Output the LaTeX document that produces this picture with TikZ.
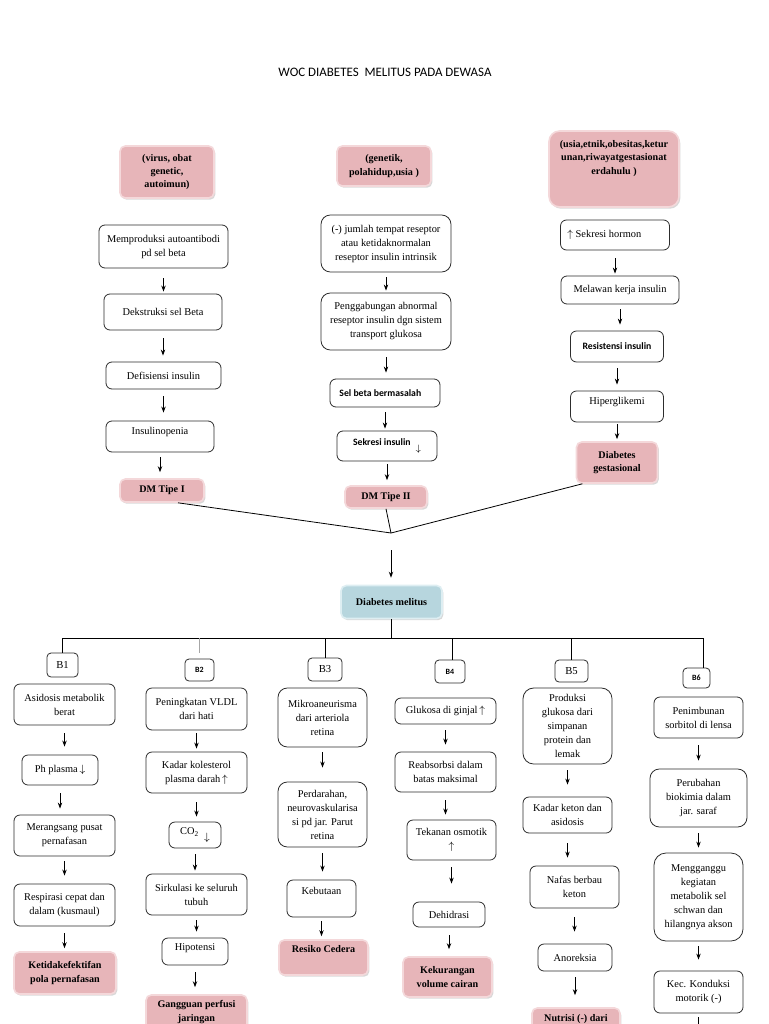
\documentclass[tikz,border=0pt]{standalone}
\usepackage{fontspec}
\setmainfont{Liberation Serif}
\newfontfamily\cali{Carlito}
\usetikzlibrary{shadows,arrows.meta,calc}
\definecolor{pinkf}{RGB}{231,181,185}
\definecolor{pinkd}{RGB}{244,216,218}
\definecolor{bluef}{RGB}{183,214,222}
\definecolor{blued}{RGB}{222,238,242}
\definecolor{edge}{RGB}{45,45,45}
\tikzset{
 sz/.style 2 args={minimum width=#1*0.75pt, minimum height=#2*0.75pt},
 wbox/.style={draw=edge, line width=0.6pt, rounded corners=4.5pt, fill=white, align=center, inner sep=1pt, font=\fontsize{7.8}{10.5}\selectfont},
 pbox/.style={draw=pinkd, line width=1.2pt, fill=pinkf, rounded corners=4pt, align=center, inner sep=1pt, font=\fontsize{7.6}{10}\selectfont\bfseries, drop shadow={shadow xshift=1pt, shadow yshift=-1.3pt, opacity=0.3}},
 ptxt/.style={align=center, inner sep=1pt, font=\fontsize{7.6}{10}\selectfont\bfseries},
 bbox/.style={pbox, fill=bluef, draw=blued},
 sbox/.style={wbox, font=\cali\bfseries\fontsize{7.3}{9}\selectfont},
 bsmall/.style={wbox, rounded corners=3pt, font=\cali\bfseries\fontsize{6}{7}\selectfont},
 bser/.style={wbox, rounded corners=3pt, font=\fontsize{8}{9}\selectfont},
 arr/.style={-{Stealth[length=4.5pt,width=3.3pt]}, line width=0.7pt, black},
 ln/.style={line width=0.6pt, black},
}
\newcommand{\conn}[4]{\draw[arr, shorten <=#3*0.75pt, shorten >=#4*0.75pt] (#1.south) -- (#1.south |- #2.north);}
\begin{document}
\begin{tikzpicture}[x=0.75pt,y=-0.75pt]
\path[use as bounding box] (0,0) rectangle (768,1024);
\clip (0,0) rectangle (768,1024);
\fill[white] (0,0) rectangle (768,1024);

\node[font=\cali\fontsize{9.7}{11}\selectfont] (title) at (385,72) {WOC DIABETES \ MELITUS PADA DEWASA};

% sources
\node[pbox, sz={94}{52}] (s1) at (167,172) {(virus, obat\\genetic,\\autoimun)};
\node[pbox, sz={94}{40}] (s2) at (384,166) {(genetik,\\polahidup,usia )};
\node[pbox, sz={130}{76}, rounded corners=8pt] (s3) at (614,169) {};
\node[ptxt, anchor=north] (s3t) at ([yshift=-6.5pt]s3.north) {(usia,etnik,obesitas,ketur\\unan,riwayatgestasionat\\erdahulu )};

% column A
\node[wbox, sz={129}{43}] (a1) at (163.5,246.5) {Memproduksi autoantibodi\\pd sel beta};
\node[wbox, sz={118}{36}] (a2) at (163,312) {Dekstruksi sel Beta};
\node[wbox, sz={115}{27}] (a3) at (163.5,375.5) {Defisiensi insulin};
\node[wbox, sz={108}{31}, text depth=8.5pt] (a4) at (160,436.5) {Insulinopenia};
\node[pbox, sz={84}{23}] (dm1) at (162,490.5) {DM Tipe I};
\conn{a1}{a2}{10}{2}
\conn{a2}{a3}{8}{6}
\conn{a3}{a4}{7}{8}
\conn{a4}{dm1}{5}{6}

% column B
\node[wbox, sz={130}{57}, rounded corners=7pt] (b1) at (386,243.5) {(-) jumlah tempat reseptor\\atau ketidaknormalan\\reseptor insulin intrinsik};
\node[wbox, sz={130}{57}, rounded corners=7pt] (b2) at (386,321.5) {Penggabungan abnormal\\reseptor insulin dgn sistem\\transport glukosa};
\node[sbox, sz={110}{28}] (b3) at (385,393) {Sel beta bermasalah\hspace*{7pt}};
\node[sbox, sz={100}{30}] (b4) at (387,446) {Sekresi insulin\enspace\raisebox{-4pt}{$\downarrow$}};
\node[pbox, sz={82}{22}] (dm2) at (386,497) {DM Tipe II};
\conn{b1}{b2}{5}{2}
\conn{b2}{b3}{7}{6}
\conn{b3}{b4}{5}{2}
\conn{b4}{dm2}{3}{5}

% column C
\node[wbox, sz={109}{30}] (c1) at (615,235) {$\uparrow$ Sekresi hormon\hspace*{16pt}};
\node[wbox, sz={118}{28}] (c2) at (620,290) {Melawan kerja insulin};
\node[sbox, sz={93}{31}] (c3) at (617,346.5) {Resistensi insulin};
\node[wbox, sz={93}{31}, text depth=8.5pt] (c4) at (617,406.5) {Hiperglikemi};
\node[pbox, sz={81}{41}] (dg) at (617,462.5) {Diabetes\\gestasional};
\conn{c1}{c2}{8}{2}
\conn{c2}{c3}{5}{6}
\conn{c3}{c4}{6}{6}
\conn{c4}{dg}{2}{2}

% convergence
\coordinate (jn) at (391,533);
\draw[ln] ([xshift=12pt]dm1.south) -- (jn);
\draw[ln] (dm2.south) -- (jn);
\draw[ln] ([xshift=5pt]dg.south west) -- (jn);
\node[bbox, sz={101}{33}] (dm) at (391.5,602) {Diabetes melitus};
\draw[arr, shorten <=17*0.75pt, shorten >=7*0.75pt] (jn) -- (jn |- dm.north);

% branches
\node[bser, sz={31}{24}] (B1) at (62.5,665) {B1};
\node[bsmall, sz={29}{22}] (B2) at (199.5,670) {B2};
\node[bser, sz={34}{23}] (B3) at (325,669.5) {B3};
\node[bsmall, sz={30}{23}] (B4) at (450,671.5) {B4};
\node[bser, sz={33}{22}] (B5) at (571.5,671) {B5};
\node[bsmall, sz={27}{20}] (B6) at (696.5,678) {B6};
\coordinate (hL) at (62.5,638);
\coordinate (hR) at (704,638);
\draw[ln] (dm.south) -- (dm.south |- hL);
\draw[ln] (hL) -- (hR);
\draw[ln] (B1.north |- hL) -- (B1.north);
\draw[ln, gray!70] (B2.north |- hL) -- ([yshift=4.5pt]B2.north);
\draw[ln] (B3.north |- hL) -- (B3.north);
\draw[ln] ([xshift=1.5pt]B4.north |- hL) -- ([xshift=1.5pt]B4.north);
\draw[ln] (B5.north |- hL) -- (B5.north);
\draw[ln] ([xshift=5.5pt]B6.north |- hL) -- ([xshift=5.5pt]B6.north);

% B1
\node[wbox, sz={101}{41}] (k1) at (64.5,704.5) {Asidosis metabolik\\berat};
\node[wbox, sz={76}{30}] (k2) at (60,770) {Ph plasma\,$\downarrow$};
\node[wbox, sz={101}{41}] (k3) at (64.5,835.5) {Merangsang pusat\\pernafasan};
\node[wbox, sz={101}{42}] (k4) at (64.5,905) {Respirasi cepat dan\\dalam (kusmaul)};
\node[pbox, sz={102}{42}] (k5) at (65,973) {Ketidakefektifan\\pola pernafasan};
\conn{k1}{k2}{8}{8}
\conn{k2}{k3}{8}{6}
\conn{k3}{k4}{5}{8}
\conn{k4}{k5}{7}{3}

% B2
\node[wbox, sz={101}{42}] (v1) at (196.5,709) {Peningkatan VLDL\\dari hati};
\node[wbox, sz={101}{41}] (v2) at (196.5,772.5) {Kadar kolesterol\\plasma darah\,$\uparrow$};
\node[wbox, sz={52}{26}] (v3) at (195,835) {CO\textsubscript{2}\enspace\raisebox{-4pt}{$\downarrow$}};
\node[wbox, sz={101}{41}] (v4) at (196.5,894.5) {Sirkulasi ke seluruh\\tubuh};
\node[wbox, sz={66}{27}, text depth=7pt] (v5) at (195,951.5) {Hipotensi};
\node[pbox, sz={101}{34}] (v6) at (196.5,1012) {Gangguan perfusi\\jaringan};
\conn{v1}{v2}{3}{3}
\conn{v2}{v3}{9}{5}
\conn{v3}{v4}{6}{3}
\conn{v4}{v5}{5}{6}
\conn{v5}{v6}{7}{7}

% B3
\node[wbox, sz={89}{59}, rounded corners=7pt] (r1) at (322.5,717.5) {Mikroaneurisma\\dari arteriola\\retina};
\node[wbox, sz={89}{65}, rounded corners=7pt] (r2) at (322.5,814.5) {Perdarahan,\\neurovaskularisa\\si pd jar. Parut\\retina};
\node[wbox, sz={69}{37}, text depth=11.5pt] (r3) at (321.5,898.5) {Kebutaan};
\node[pbox, sz={89}{35}, text depth=13pt] (r4) at (323.5,957.5) {Resiko Cedera};
\conn{r1}{r2}{5}{14}
\conn{r2}{r3}{6}{8}
\conn{r3}{r4}{4}{3}

% B4
\node[wbox, sz={101}{26}] (g1) at (445.5,711) {Glukosa di ginjal\,$\uparrow$};
\node[wbox, sz={101}{40}] (g2) at (445.5,772) {Reabsorbsi dalam\\batas maksimal};
\node[wbox, sz={89}{40}] (g3) at (451.5,840) {Tekanan osmotik\\$\uparrow$};
\node[wbox, sz={72}{25}] (g4) at (449,914.5) {Dehidrasi};
\node[pbox, sz={89}{40}] (g5) at (447.5,977) {Kekurangan\\volume cairan};
\conn{g1}{g2}{6}{7}
\conn{g2}{g3}{8}{5}
\conn{g3}{g4}{7}{18}
\conn{g4}{g5}{8}{7}

% B5
\node[wbox, sz={89}{76}, rounded corners=8pt] (p1) at (567.5,726) {Produksi\\glukosa dari\\simpanan\\protein dan\\lemak};
\node[wbox, sz={89}{36}] (p2) at (567.5,815) {Kadar keton dan\\asidosis};
\node[wbox, sz={89}{42}] (p3) at (574.5,887) {Nafas berbau\\keton};
\node[wbox, sz={74}{27}] (p4) at (575,957.5) {Anoreksia};
\node[pbox, sz={88}{40}, text depth=15pt] (p5) at (576,1028) {Nutrisi (-) dari};
\conn{p1}{p2}{6}{12}
\conn{p2}{p3}{10}{8}
\conn{p3}{p4}{9}{12}
\conn{p4}{p5}{6}{12}

% B6
\node[wbox, sz={89}{41}] (n1) at (698.5,717.5) {Penimbunan\\sorbitol di lensa};
\node[wbox, sz={97}{58}, rounded corners=7pt] (n2) at (698.5,798) {Perubahan\\biokimia dalam\\jar. saraf};
\node[wbox, sz={89}{88}, rounded corners=9pt] (n3) at (698.5,897) {Mengganggu\\kegiatan\\metabolik sel\\schwan dan\\hilangnya akson};
\node[wbox, sz={89}{42}] (n4) at (698.5,992) {Kec. Konduksi\\motorik (-)};
\conn{n1}{n2}{7}{8}
\conn{n2}{n3}{6}{5}
\conn{n3}{n4}{5}{11}
\coordinate (n4end) at (698.5,1045);
\draw[arr, shorten <=4*0.75pt] (n4.south) -- (n4end);
\end{tikzpicture}
\end{document}
